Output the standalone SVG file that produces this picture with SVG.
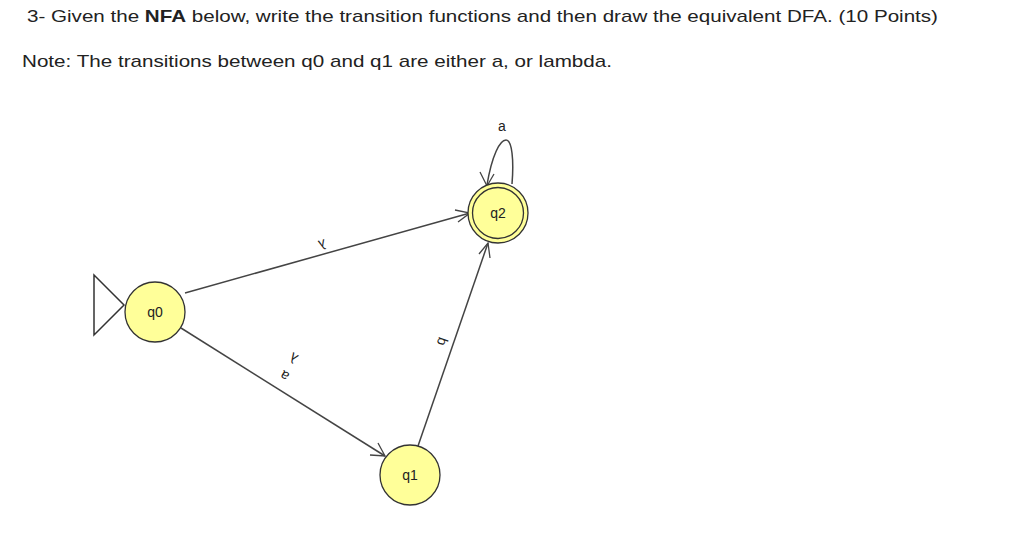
<svg xmlns="http://www.w3.org/2000/svg" width="1011" height="540" viewBox="0 0 1011 540">
<style>
.h{font-family:"Liberation Sans",Arial,sans-serif;font-size:17px;fill:#222}
.st circle{fill:#ffff99;stroke:#333;stroke-width:1.3}
.lbl{font-family:"Liberation Sans",Arial,sans-serif;font-size:14px;fill:#222;text-anchor:middle}
.e{stroke:#444;stroke-width:1.5;fill:none}
.ah{stroke:#444;stroke-width:1.3;fill:none}
</style>
<rect width="1011" height="540" fill="#fff"/>
<text class="h" x="27" y="22" textLength="911" lengthAdjust="spacingAndGlyphs">3- Given the <tspan font-weight="bold">NFA</tspan> below, write the transition functions and then draw the equivalent DFA. (10 Points)</text>
<text class="h" x="22" y="67" textLength="590" lengthAdjust="spacingAndGlyphs">Note: The transitions between q0 and q1 are either a, or lambda.</text>
<g id="connectors">
<line class="e" x1="185" y1="293" x2="470" y2="213"/>
<path class="ah" d="M455,210 L470,213 L458,222"/>
<text class="lbl" transform="translate(321,240) rotate(164)">λ</text>
<line class="e" x1="181" y1="328" x2="385" y2="456"/>
<path class="ah" d="M370,455 L385,456 L378,443"/>
<text class="lbl" transform="translate(287,372) rotate(212)">a</text>
<text class="lbl" transform="translate(296,354) rotate(212)">λ</text>
<line class="e" x1="418" y1="446" x2="488" y2="243"/>
<path class="ah" d="M479,254 L488,243 L490,258"/>
<text class="lbl" transform="translate(438,340) rotate(110)">b</text>
<path class="e" d="M487,185 C492,155 500,140 506,140 C512,140 514,160 512,184"/>
<path class="ah" d="M480,172 L487,186 L494,174"/>
<text class="lbl" x="502" y="131">a</text>
</g>
<g id="q0" class="st">
<path d="M94,275 L94,335 L124,305 Z" fill="#fff" stroke="#333" stroke-width="1.5"/>
<circle cx="155" cy="312" r="30"/>
<text class="lbl" x="155" y="317" font-size="15">q0</text>
</g>
<g id="q1" class="st">
<circle cx="410" cy="475" r="30"/>
<text class="lbl" x="410" y="480" font-size="15">q1</text>
</g>
<g id="q2" class="st">
<circle cx="498" cy="213" r="30"/>
<circle cx="498" cy="213" r="25.5"/>
<text class="lbl" x="498" y="218" font-size="15">q2</text>
</g>
</svg>
